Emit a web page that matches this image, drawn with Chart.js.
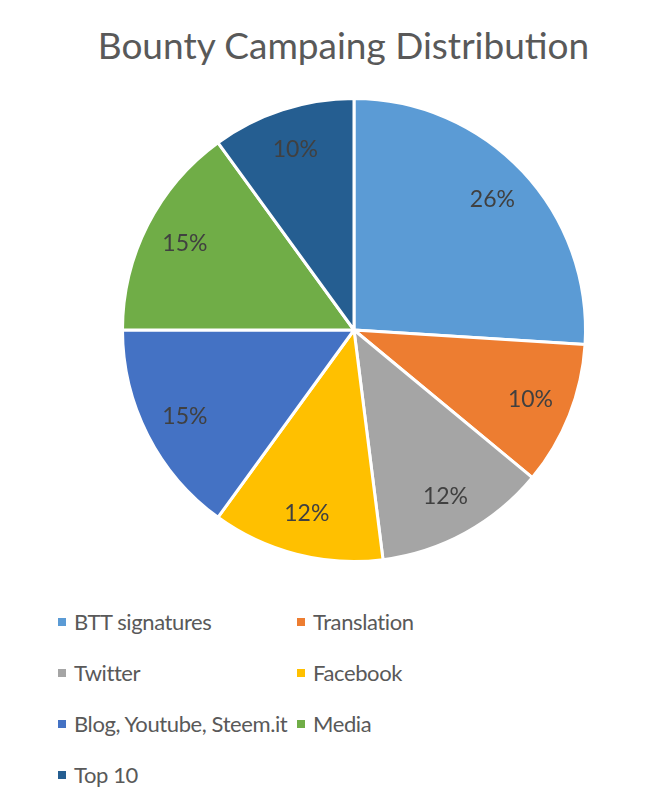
<!DOCTYPE html>
<html>
<head>
<meta charset="utf-8">
<script src="https://cdn.jsdelivr.net/npm/chart.js@4/dist/chart.umd.min.js"></script>
<style>
  body { margin: 0; background: #fff; font-family: Lato, "Liberation Sans", sans-serif; }
  #wrap { position: relative; width: 647px; height: 796px; }
  #title { position: absolute; left: 0; top: 22px; width: 687px; text-align: center;
           font-size: 37px; color: #595959; white-space: nowrap; }
  #chart { position: absolute; left: 0; top: 0; }
  #legend { position: absolute; left: 58px; top: 605px; display: grid;
            grid-template-columns: 239px 200px; grid-auto-rows: 51px; }
  .item { display: flex; align-items: center; height: 32px; font-size: 22px; letter-spacing: -0.4px;
          color: #595959; white-space: nowrap; }
  .box { flex: 0 0 8px; width: 8px; height: 8px; margin-right: 8px; margin-top: 2px; }
</style>
</head>
<body>
<div id="wrap">
  <div id="title">Bounty Campaing Distribution</div>
  <canvas id="chart" width="647" height="590"></canvas>
  <div id="legend"></div>
</div>
<script>
  const categories = ['BTT signatures', 'Translation', 'Twitter', 'Facebook', 'Blog, Youtube, Steem.it', 'Media', 'Top 10'];
  const shares = [26, 10, 12, 12, 15, 15, 10];
  const colors = ['#5B9BD5', '#ED7D31', '#A5A5A5', '#FFC000', '#4472C4', '#70AD47', '#255E91'];

  // percentage labels inside each slice, near the rim
  const sliceLabels = {
    id: 'sliceLabels',
    afterDatasetsDraw(chart) {
      const ctx = chart.ctx;
      const meta = chart.getDatasetMeta(0);
      ctx.save();
      ctx.font = '23px Lato, "Liberation Sans", sans-serif';
      ctx.fillStyle = '#404040';
      ctx.textAlign = 'center';
      ctx.textBaseline = 'middle';
      meta.data.forEach((arc, i) => {
        const mid = (arc.startAngle + arc.endAngle) / 2;
        const r = arc.outerRadius * 0.82;
        ctx.fillText(shares[i] + '%', arc.x + Math.cos(mid) * r, arc.y + Math.sin(mid) * r);
      });
      ctx.restore();
    }
  };

  const chart = new Chart(document.getElementById('chart'), {
    type: 'pie',
    data: {
      labels: categories,
      datasets: [{
        data: shares,
        backgroundColor: colors,
        borderColor: '#ffffff',
        borderWidth: 3
      }]
    },
    options: {
      responsive: false,
      animation: false,
      layout: { padding: { top: 97, bottom: 27, left: 121, right: 60 } },
      plugins: {
        legend: { display: false },
        tooltip: { enabled: false }
      }
    },
    plugins: [sliceLabels]
  });

  const legend = document.getElementById('legend');
  categories.forEach((name, i) => {
    const item = document.createElement('div');
    item.className = 'item';
    item.innerHTML = '<span class="box" style="background:' + colors[i] + '"></span><span>' + name + '</span>';
    legend.appendChild(item);
  });
</script>
</body>
</html>
